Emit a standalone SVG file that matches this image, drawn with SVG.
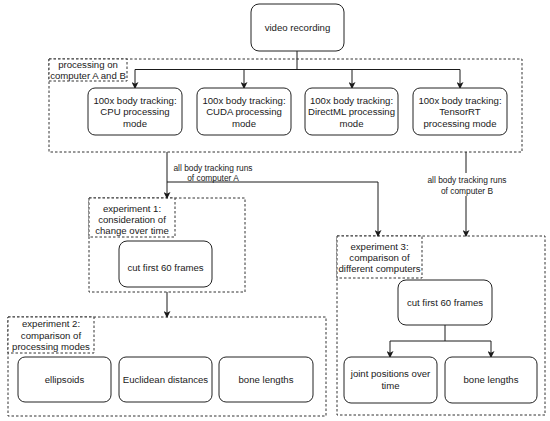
<svg xmlns="http://www.w3.org/2000/svg" width="550" height="421" viewBox="0 0 550 421">
<defs>
<marker id="arr" markerWidth="7" markerHeight="7" refX="6" refY="3.5" orient="auto" markerUnits="userSpaceOnUse">
<path d="M0,0 L7,3.5 L0,7 L1.8,3.5 Z" fill="#1a1a1a"/>
</marker>
<style>
.box{fill:#fff;stroke:#222;stroke-width:1}
.grp{fill:none;stroke:#333;stroke-width:1;stroke-dasharray:2.5,2}
.lbl{fill:#fff;stroke:#333;stroke-width:1;stroke-dasharray:2.5,2}
.t{font-family:"Liberation Sans",Arial,sans-serif;font-size:9.6px;fill:#1a1a1a;text-anchor:middle}
.s{font-family:"Liberation Sans",Arial,sans-serif;font-size:8.4px;fill:#1a1a1a;text-anchor:middle}
.c{fill:none;stroke:#1a1a1a;stroke-width:1}
</style>
</defs>
<rect width="550" height="421" fill="#fff"/>

<g id="processing-group">
<rect class="grp" x="49" y="59" width="473" height="93"/>
<rect class="lbl" x="49" y="59" width="78" height="22"/>
<text class="t" x="88" y="67.8">processing on</text>
<text class="t" x="88" y="79.3">computer A and B</text>
</g>

<g id="experiment1-group">
<rect class="grp" x="89" y="198" width="156" height="94"/>
<rect class="lbl" x="89" y="198" width="86" height="39"/>
<text class="t" x="132" y="212.3">experiment 1:</text>
<text class="t" x="132" y="223.3">consideration of</text>
<text class="t" x="132" y="234.3">change over time</text>
</g>

<g id="experiment2-group">
<rect class="grp" x="8" y="317" width="318" height="99"/>
<rect class="lbl" x="8" y="317" width="86" height="36"/>
<text class="t" x="51" y="327.3">experiment 2:</text>
<text class="t" x="51" y="338.8">comparison of</text>
<text class="t" x="51" y="350.3">processing modes</text>
</g>

<g id="experiment3-group">
<rect class="grp" x="337" y="236" width="208" height="179"/>
<rect class="lbl" x="337" y="236" width="85" height="42"/>
<text class="t" x="379.5" y="250.3">experiment 3:</text>
<text class="t" x="379.5" y="261.3">comparison of</text>
<text class="t" x="379.5" y="272.3">different computers</text>
</g>

<g id="connectors">
<path class="c" d="M297,51 V69.5"/>
<path class="c" d="M135,69.5 H460"/>
<path class="c" d="M135,69.5 V88" marker-end="url(#arr)"/>
<path class="c" d="M244,69.5 V88" marker-end="url(#arr)"/>
<path class="c" d="M352,69.5 V88" marker-end="url(#arr)"/>
<path class="c" d="M460,69.5 V88" marker-end="url(#arr)"/>
<path class="c" d="M167,152 V198" marker-end="url(#arr)"/>
<path class="c" d="M167,182 H378 V236" marker-end="url(#arr)"/>
<path class="c" d="M466,152 V236" marker-end="url(#arr)"/>
<path class="c" d="M167,292 V317" marker-end="url(#arr)"/>
<path class="c" d="M445,325 V341"/>
<path class="c" d="M390,341 H491"/>
<path class="c" d="M390,341 V357" marker-end="url(#arr)"/>
<path class="c" d="M491,341 V357" marker-end="url(#arr)"/>
<text class="s" x="213" y="170.5">all body tracking runs</text>
<text class="s" x="213" y="181">of computer A</text>
<rect x="426" y="173" width="82" height="23" fill="#fff"/>
<text class="s" x="467" y="182.5">all body tracking runs</text>
<text class="s" x="467" y="193.5">of computer B</text>
</g>

<g id="video-recording">
<rect class="box" x="251" y="4" width="93" height="47" rx="8"/>
<text class="t" x="297.5" y="31">video recording</text>
</g>

<g id="cpu">
<rect class="box" x="88" y="88" width="94" height="47" rx="7"/>
<text class="t" x="135" y="103.5">100x body tracking:</text>
<text class="t" x="135" y="115">CPU processing</text>
<text class="t" x="135" y="126.5">mode</text>
</g>

<g id="cuda">
<rect class="box" x="197" y="88" width="94" height="47" rx="7"/>
<text class="t" x="244" y="103.5">100x body tracking:</text>
<text class="t" x="244" y="115">CUDA processing</text>
<text class="t" x="244" y="126.5">mode</text>
</g>

<g id="directml">
<rect class="box" x="305" y="88" width="93" height="47" rx="7"/>
<text class="t" x="351.5" y="103.5">100x body tracking:</text>
<text class="t" x="351.5" y="115">DirectML processing</text>
<text class="t" x="351.5" y="126.5">mode</text>
</g>

<g id="tensorrt">
<rect class="box" x="413" y="88" width="94" height="47" rx="7"/>
<text class="t" x="460" y="103.5">100x body tracking:</text>
<text class="t" x="460" y="115">TensorRT</text>
<text class="t" x="460" y="126.5">processing mode</text>
</g>

<g id="cut1">
<rect class="box" x="119" y="241" width="93" height="46" rx="8"/>
<text class="t" x="165.5" y="270.5">cut first 60 frames</text>
</g>

<g id="ellipsoids">
<rect class="box" x="18" y="357" width="93" height="45" rx="7"/>
<text class="t" x="64.5" y="383">ellipsoids</text>
</g>

<g id="euclidean">
<rect class="box" x="119" y="357" width="93" height="45" rx="7"/>
<text class="t" x="165.5" y="383">Euclidean distances</text>
</g>

<g id="bone1">
<rect class="box" x="219" y="357" width="94" height="45" rx="7"/>
<text class="t" x="266" y="383">bone lengths</text>
</g>

<g id="cut3">
<rect class="box" x="398" y="280" width="94" height="45" rx="8"/>
<text class="t" x="445" y="306">cut first 60 frames</text>
</g>

<g id="joint">
<rect class="box" x="344" y="357" width="93" height="46" rx="7"/>
<text class="t" x="390.5" y="377">joint positions over</text>
<text class="t" x="390.5" y="389">time</text>
</g>

<g id="bone3">
<rect class="box" x="445" y="357" width="92" height="46" rx="7"/>
<text class="t" x="491" y="383">bone lengths</text>
</g>
</svg>
